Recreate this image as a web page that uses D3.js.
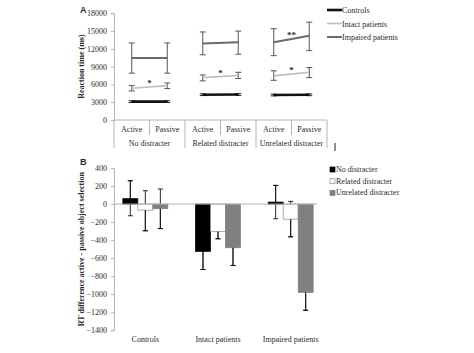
<!DOCTYPE html>
<html>
<head>
<meta charset="utf-8">
<script src="https://cdn.jsdelivr.net/npm/d3@7"></script>
<style>
  body { margin: 0; background: #fff; }
  svg { display: block; font-family: 'Liberation Serif', 'Times New Roman', serif; }
</style>
</head>
<body>
<div id="chart"></div>
<script>
// Panel A: reaction times
const groupsA = ['No distracter', 'Related distracter', 'Unrelated distracter'];
const conditionsA = ['Active', 'Passive'];
const ticksA = [0, 3000, 6000, 9000, 12000, 15000, 18000];

const controlsMean = [3100, 3100, 4270, 4300, 4220, 4250];
const controlsLo = [2950, 2950, 4120, 4150, 4070, 4100];
const controlsHi = [3250, 3250, 4420, 4450, 4370, 4400];

const intactMean = [5350, 5800, 7150, 7500, 7450, 8050];
const intactLo = [4900, 5300, 6600, 7000, 6700, 7150];
const intactHi = [5800, 6250, 7600, 8050, 8300, 8850];

const impairedMean = [10450, 10450, 12900, 13100, 13100, 14200];
const impairedLo = [7900, 7900, 11000, 11100, 10850, 11700];
const impairedHi = [13000, 13000, 14850, 15000, 15400, 16500];

const starLabels = ['*', '*', '*', '**'];
const starGroup = [0, 1, 2, 2];
const starValue = [6400, 8100, 8600, 14500];

// Panel B: RT difference
const groupsB = ['Controls', 'Intact patients', 'Impaired patients'];
const seriesB = ['No distracter', 'Related distracter', 'Unrelated distracter'];
const ticksB = d3.range(-1400, 401, 200);

const noDistMean = [60, -525, 20];
const noDistLo = [-130, -726, -163];
const noDistHi = [259, -325, 207];
const relatedMean = [-67, -305, -167];
const relatedLo = [-296, -385, -363];
const relatedHi = [148, -226, 30];
const unrelatedMean = [-52, -485, -980];
const unrelatedLo = [-272, -681, -1178];
const unrelatedHi = [167, -289, -796];

const W = 474, H = 353;
const AXIS = '#b4b4b4';
const TXT = '#2a2a2a';
const FS = 8;

const svg = d3.select('#chart').append('svg').attr('width', W).attr('height', H);
svg.append('rect').attr('width', W).attr('height', H).attr('fill', '#fff');

// ---------- Panel A ----------
const xGroupA = d3.scaleBand().domain(groupsA).range([114, 327]);
const xCondA = d3.scaleBand().domain(conditionsA).range([0, xGroupA.bandwidth()]);
const yA = d3.scaleLinear().domain([0, 18000]).range([120, 13.3]);
const xPos = i => xGroupA(groupsA[Math.floor(i / 2)]) + xCondA(conditionsA[i % 2]) + xCondA.bandwidth() / 2;

const gA = svg.append('g');
const yAxisA = gA.append('g').attr('transform', 'translate(114,0)')
  .call(d3.axisLeft(yA).tickValues(ticksA).tickSize(3).tickFormat(d3.format('d')));
yAxisA.select('.domain').attr('stroke', AXIS);
yAxisA.selectAll('.tick line').attr('stroke', AXIS);
yAxisA.selectAll('.tick text').attr('fill', TXT).attr('font-size', FS)
  .attr('font-family', "'Liberation Serif', serif").attr('x', -7);

// baseline and multi-level category separators
gA.append('line').attr('x1', 114).attr('x2', 327).attr('y1', yA(0)).attr('y2', yA(0)).attr('stroke', AXIS);
gA.append('line').attr('x1', 114).attr('x2', 114).attr('y1', yA(0)).attr('y2', 148).attr('stroke', AXIS);
groupsA.forEach(g => {
  const x0 = xGroupA(g);
  const x1 = x0 + xGroupA.bandwidth();
  gA.append('line').attr('x1', x1).attr('x2', x1).attr('y1', yA(0)).attr('y2', 148).attr('stroke', AXIS);
  const mid = x0 + xCondA('Passive');
  gA.append('line').attr('x1', mid).attr('x2', mid).attr('y1', yA(0)).attr('y2', 135).attr('stroke', AXIS);
  conditionsA.forEach(c => {
    gA.append('text').attr('x', x0 + xCondA(c) + xCondA.bandwidth() / 2).attr('y', 132)
      .attr('text-anchor', 'middle').attr('font-size', FS).attr('fill', TXT).text(c);
  });
  gA.append('text').attr('x', x0 + xGroupA.bandwidth() / 2).attr('y', 146)
    .attr('text-anchor', 'middle').attr('font-size', FS).attr('fill', TXT).text(g);
});

gA.append('text').attr('transform', `translate(84,${yA(9000)}) rotate(-90)`)
  .attr('text-anchor', 'middle').attr('font-size', FS).attr('font-weight', 'bold')
  .attr('fill', TXT).text('Reaction time (ms)');
svg.append('text').attr('x', 80).attr('y', 13).attr('font-size', 9).attr('font-weight', 'bold')
  .attr('font-family', "'Liberation Sans', Arial, sans-serif").attr('fill', TXT).text('A');

const seriesA = [
  { name: 'Controls', mean: controlsMean, lo: controlsLo, hi: controlsHi, color: '#111', width: 2.6, err: '#222' },
  { name: 'Intact patients', mean: intactMean, lo: intactLo, hi: intactHi, color: '#bdbdbd', width: 1.6, err: '#555' },
  { name: 'Impaired patients', mean: impairedMean, lo: impairedLo, hi: impairedHi, color: '#6a6a6a', width: 2, err: '#555' }
];

seriesA.forEach(s => {
  s.mean.forEach((m, i) => {
    const x = xPos(i);
    gA.append('line').attr('x1', x).attr('x2', x).attr('y1', yA(s.lo[i])).attr('y2', yA(s.hi[i]))
      .attr('stroke', s.err).attr('stroke-width', 1);
    [s.lo[i], s.hi[i]].forEach(v => {
      gA.append('line').attr('x1', x - 3).attr('x2', x + 3).attr('y1', yA(v)).attr('y2', yA(v))
        .attr('stroke', s.err).attr('stroke-width', 1);
    });
  });
  groupsA.forEach((g, gi) => {
    gA.append('line').attr('x1', xPos(gi * 2)).attr('x2', xPos(gi * 2 + 1))
      .attr('y1', yA(s.mean[gi * 2])).attr('y2', yA(s.mean[gi * 2 + 1]))
      .attr('stroke', s.color).attr('stroke-width', s.width);
  });
});

starLabels.forEach((lab, i) => {
  const x = (xPos(starGroup[i] * 2) + xPos(starGroup[i] * 2 + 1)) / 2;
  gA.append('text').attr('x', x).attr('y', yA(starValue[i]) + 4).attr('text-anchor', 'middle')
    .attr('font-size', 9).attr('font-weight', 'bold').attr('fill', TXT).text(lab);
});

const legA = svg.append('g').attr('transform', 'translate(327,10)');
seriesA.forEach((s, i) => {
  const row = legA.append('g').attr('transform', `translate(0,${i * 13.5})`);
  row.append('line').attr('x1', 0).attr('x2', 15).attr('stroke', s.color).attr('stroke-width', s.width);
  row.append('text').attr('x', 15).attr('y', 3).attr('font-size', FS).attr('fill', TXT).text(s.name);
});

svg.append('line').attr('x1', 335).attr('x2', 335).attr('y1', 143).attr('y2', 151)
  .attr('stroke', '#444').attr('stroke-width', 1.2);

// ---------- Panel B ----------
const xGroupB = d3.scaleBand().domain(groupsB).range([109, 327]);
const xSerB = d3.scaleBand().domain(seriesB).range([0, xGroupB.bandwidth()]).paddingOuter(0.92).paddingInner(0);
const yB = d3.scaleLinear().domain([-1400, 400]).range([330.3, 168]);

const gB = svg.append('g');
const yAxisB = gB.append('g').attr('transform', 'translate(114,0)')
  .call(d3.axisLeft(yB).tickValues(ticksB).tickSize(3).tickFormat(d3.format('d')));
yAxisB.select('.domain').attr('stroke', AXIS);
yAxisB.selectAll('.tick line').attr('stroke', AXIS);
yAxisB.selectAll('.tick text').attr('fill', TXT).attr('font-size', FS)
  .attr('font-family', "'Liberation Serif', serif").attr('x', -7);

gB.append('text').attr('transform', `translate(84,${yB(-500)}) rotate(-90)`)
  .attr('text-anchor', 'middle').attr('font-size', FS).attr('font-weight', 'bold')
  .attr('fill', TXT).text('RT difference active - passive object selection');
svg.append('text').attr('x', 80).attr('y', 165).attr('font-size', 9).attr('font-weight', 'bold')
  .attr('font-family', "'Liberation Sans', Arial, sans-serif").attr('fill', TXT).text('B');

groupsB.forEach(g => {
  gB.append('text').attr('x', xGroupB(g) + xGroupB.bandwidth() / 2).attr('y', 342)
    .attr('text-anchor', 'middle').attr('font-size', FS).attr('fill', TXT).text(g);
});

const barSeries = [
  { name: seriesB[0], mean: noDistMean, lo: noDistLo, hi: noDistHi, fill: '#000', stroke: '#000' },
  { name: seriesB[1], mean: relatedMean, lo: relatedLo, hi: relatedHi, fill: '#fff', stroke: '#8a8a8a' },
  { name: seriesB[2], mean: unrelatedMean, lo: unrelatedLo, hi: unrelatedHi, fill: '#808080', stroke: '#808080' }
];

barSeries.forEach(s => {
  groupsB.forEach((g, gi) => {
    const x = xGroupB(g) + xSerB(s.name);
    const cx = x + xSerB.bandwidth() / 2;
    gB.append('line').attr('x1', cx).attr('x2', cx).attr('y1', yB(s.lo[gi])).attr('y2', yB(s.hi[gi]))
      .attr('stroke', '#111').attr('stroke-width', 0.9);
    [s.lo[gi], s.hi[gi]].forEach(v => {
      gB.append('line').attr('x1', cx - 2.5).attr('x2', cx + 2.5).attr('y1', yB(v)).attr('y2', yB(v))
        .attr('stroke', '#111').attr('stroke-width', 0.9);
    });
  });
});

barSeries.forEach(s => {
  groupsB.forEach((g, gi) => {
    const v = s.mean[gi];
    const x = xGroupB(g) + xSerB(s.name);
    const h = Math.max(Math.abs(yB(v) - yB(0)), 2);
    gB.append('rect').attr('x', x).attr('width', xSerB.bandwidth())
      .attr('y', v >= 0 ? yB(0) - h : yB(0)).attr('height', h)
      .attr('fill', s.fill).attr('stroke', s.stroke).attr('stroke-width', 0.7);
  });
});

// redraw the visible part of the error bars outside the bars
barSeries.forEach(s => {
  groupsB.forEach((g, gi) => {
    const v = s.mean[gi];
    const cx = xGroupB(g) + xSerB(s.name) + xSerB.bandwidth() / 2;
    const outer = v >= 0 ? s.hi[gi] : s.lo[gi];
    gB.append('line').attr('x1', cx).attr('x2', cx).attr('y1', yB(v)).attr('y2', yB(outer))
      .attr('stroke', '#111').attr('stroke-width', 0.9);
    gB.append('line').attr('x1', cx - 2.5).attr('x2', cx + 2.5).attr('y1', yB(outer)).attr('y2', yB(outer))
      .attr('stroke', '#111').attr('stroke-width', 0.9);
  });
});

gB.append('line').attr('x1', 114).attr('x2', 317).attr('y1', yB(0)).attr('y2', yB(0))
  .attr('stroke', AXIS).attr('stroke-width', 1);

const legB = svg.append('g').attr('transform', 'translate(330,170)');
barSeries.forEach((s, i) => {
  const row = legB.append('g').attr('transform', `translate(0,${i * 11.7})`);
  row.append('rect').attr('x', 0).attr('y', -3).attr('width', 5).attr('height', 5)
    .attr('fill', s.fill).attr('stroke', s.stroke).attr('stroke-width', 0.7);
  row.append('text').attr('x', 6).attr('y', 2).attr('font-size', FS).attr('fill', TXT).text(s.name);
});
</script>
</body>
</html>
